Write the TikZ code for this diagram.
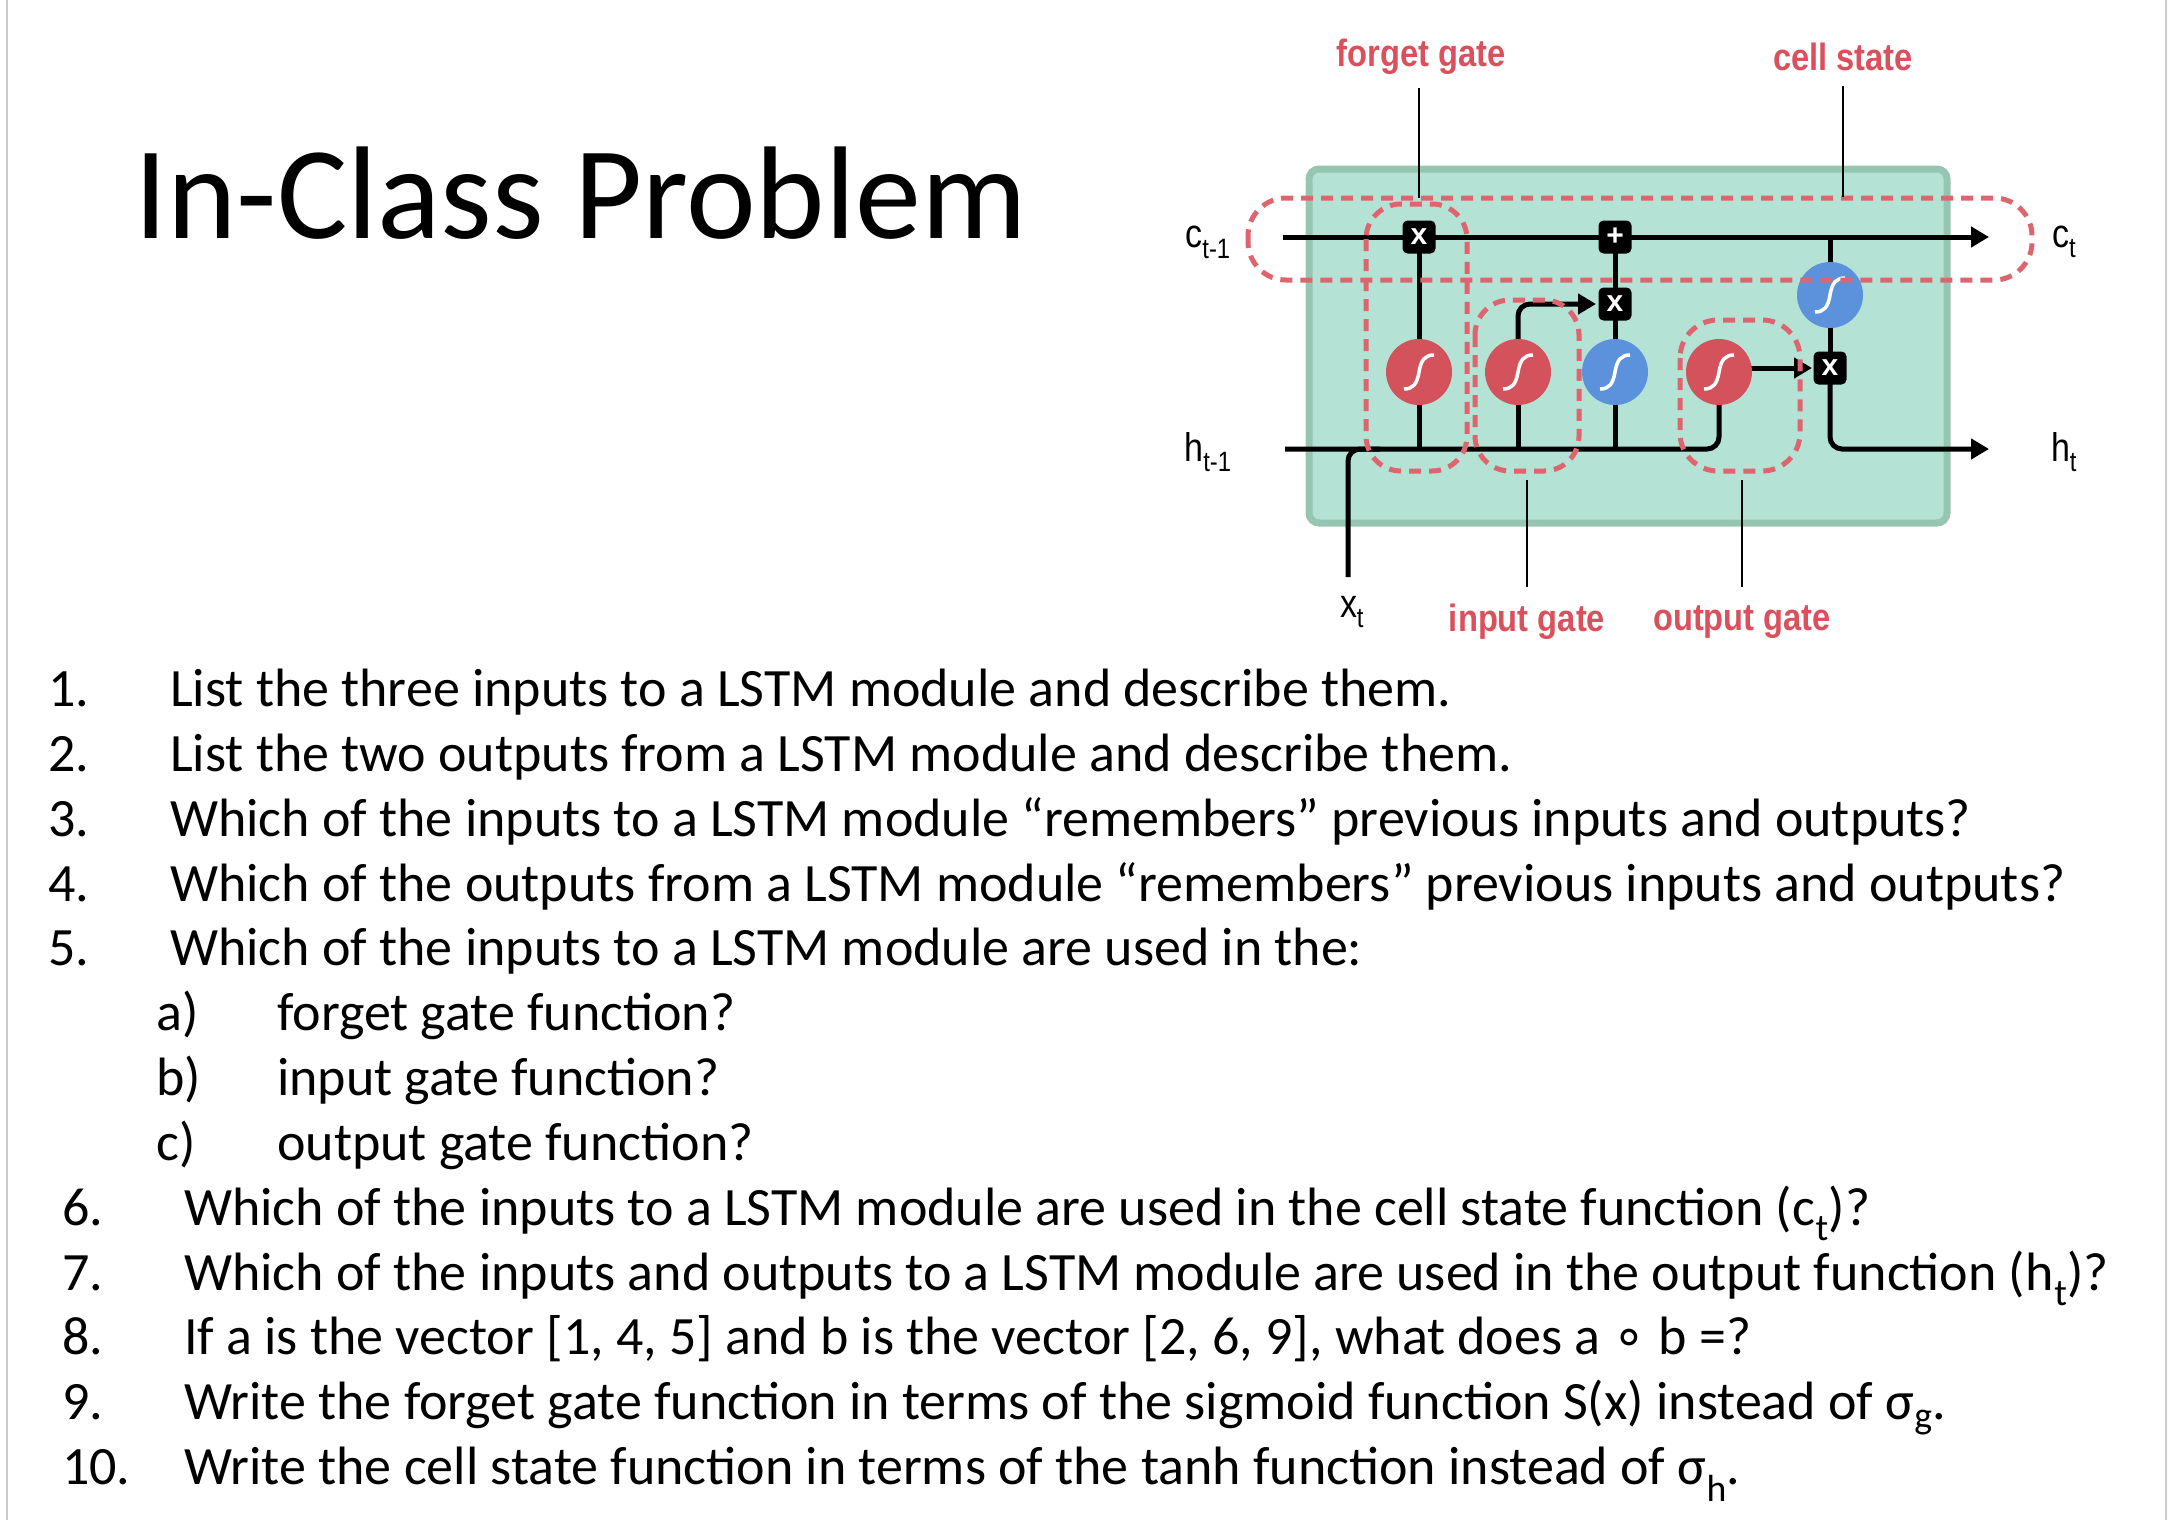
\documentclass[tikz,border=0pt]{standalone}
\usepackage{fontspec}
\setmainfont{Carlito}
\newfontfamily\lab{Liberation Sans}
\newfontfamily\dv{DejaVu Sans}
\usetikzlibrary{calc,arrows.meta}
\definecolor{boxfill}{RGB}{180,226,213}
\definecolor{boxline}{RGB}{150,198,178}
\definecolor{sred}{RGB}{212,82,92}
\definecolor{sblue}{RGB}{92,146,220}
\definecolor{dred}{RGB}{222,100,110}
\definecolor{lred}{RGB}{218,80,92}
\tikzset{
 wire/.style={line width=5pt,black},
 arr/.style={wire,-{Triangle[length=18pt,width=20pt]}},
 dbox/.style={line width=5pt,dred,dash pattern=on 12pt off 8pt},
 lead/.style={line width=1.6pt,black},
 op/.style={rectangle,rounded corners=5pt,fill=black,minimum size=33pt,inner sep=0pt,text=white,font=\lab\bfseries\fontsize{30}{30}\selectfont},
 gl/.style={font=\lab\bfseries\fontsize{38}{38}\selectfont,text=lred,xscale=0.86},
 vl/.style={font=\lab\fontsize{40}{40}\selectfont,xscale=0.85},
 qt/.style={anchor=base west,inner sep=0pt,font=\fontsize{54}{54}\selectfont},
}
\newcommand\sigm[3]{%
 \node[circle,fill=#3,minimum size=66pt,inner sep=0pt] (#1) at #2 {};
 \draw[white,line width=3.5pt] ($(#1)+(-15,17)$) .. controls +(9,0) and +(-2,12) .. (#1.center) .. controls +(2,-12) and +(-9,0) .. ($(#1)+(15,-17)$);}
\begin{document}
\begin{tikzpicture}[x=1pt,y=-1pt]
\useasboundingbox (0,0) rectangle (2170,1520);
\draw[gray!40,line width=1.5pt] (7,0) -- (7,1520);
\draw[gray!40,line width=1.5pt] (2166,0) -- (2166,1520);
\node[anchor=base west,inner sep=0pt,font=\fontsize{132}{132}\selectfont] (title) at (134,238) {In-Class Problem};
% box
\draw[fill=boxfill,draw=boxline,line width=7pt,rounded corners=10pt] (1309,169) rectangle (1947,523);
% coordinates
\coordinate (cl) at (1283,237); \coordinate (cend) at (1989,237);
\coordinate (hl) at (1285,449); \coordinate (hend) at (1989,449);
\coordinate (xb) at (1348,577);
% wires
\draw[arr] (cl) -- (cend);
\draw[wire,rounded corners=12pt] (hl) -- (1719,449) -- (1719,372);
\draw[wire,rounded corners=12pt] (xb) -- (1348,449) -- (1380,449);
\draw[wire] (1419,449) -- (1419,237);
\draw[wire] (1518,449) -- (1518,372);
\draw[wire] (1615,449) -- (1615,237);
\draw[wire] (1830,237) -- (1830,368);
\draw[arr,rounded corners=12pt] (1518,372) -- (1518,304) -- (1596,304);
\draw[arr,rounded corners=12pt] (1830,368) -- (1830,449) -- (hend);
\draw[arr] (1719,368) -- (1812,368);
% nodes
\node[op] (fx) at (1419,237) {x};
\node[op] (plus) at (1615,237) {+};
\node[op] (ix) at (1615,304) {x};
\node[op] (ox) at (1830,368) {x};
\sigm{sf}{(1419,372)}{sred}
\sigm{si}{(1518,372)}{sred}
\sigm{st}{(1615,372)}{sblue}
\sigm{so}{(1719,372)}{sred}
\sigm{tc}{(1830,295)}{sblue}
% dashed groups
\draw[dbox,rounded corners=38pt] (1248,198) rectangle (2032,280);
\draw[dbox,rounded corners=35pt] (1366,204) rectangle (1467,471);
\draw[dbox,rounded corners=35pt] (1475,300) rectangle (1579,471);
\draw[dbox,rounded corners=38pt] (1680,320) rectangle (1800,471);
% labels
\node[gl] (lf) at (1421,57) {forget gate};
\node[gl] (lc) at (1843,57) {cell state};
\node[gl] (li) at (1527,622) {input gate};
\node[gl] (lo) at (1742,622) {output gate};
\draw[lead] (1419,88) -- (1419,198);
\draw[lead] (1843,86) -- (1843,197);
\draw[lead] (1527,480) -- (1527,587);
\draw[lead] (1742,480) -- (1742,587);
\node[vl] (vc) at (1208,242) {c\textsubscript{t-1}};
\node[vl] (vh) at (1208,452) {h\textsubscript{t-1}};
\node[vl] (vct) at (2064,242) {c\textsubscript{t}};
\node[vl] (vht) at (2064,452) {h\textsubscript{t}};
\node[vl] (vx) at (1352,612) {x\textsubscript{t}};
% questions
\node[qt] (n1) at (48,706) {1.}; \node[qt] (q1) at (170,706) {List the three inputs to a LSTM module and describe them.};
\node[qt] (n2) at (48,771) {2.}; \node[qt] (q2) at (170,771) {List the two outputs from a LSTM module and describe them.};
\node[qt] (n3) at (48,836) {3.}; \node[qt] (q3) at (170,836) {Which of the inputs to a LSTM module “remembers” previous inputs and outputs?};
\node[qt] (n4) at (48,901) {4.}; \node[qt] (q4) at (170,901) {Which of the outputs from a LSTM module “remembers” previous inputs and outputs?};
\node[qt] (n5) at (48,965) {5.}; \node[qt] (q5) at (170,965) {Which of the inputs to a LSTM module are used in the:};
\node[qt] (na) at (156,1030) {a)}; \node[qt] (qa) at (277,1030) {forget gate function?};
\node[qt] (nb) at (156,1095) {b)}; \node[qt] (qb) at (277,1095) {input gate function?};
\node[qt] (nc) at (156,1160) {c)}; \node[qt] (qc) at (277,1160) {output gate function?};
\node[qt] (n6) at (62,1225) {6.}; \node[qt] (q6) at (184,1225) {Which of the inputs to a LSTM module are used in the cell state function (c\textsubscript{t})?};
\node[qt] (n7) at (62,1290) {7.}; \node[qt] (q7) at (184,1290) {Which of the inputs and outputs to a LSTM module are used in the output function (h\textsubscript{t})?};
\node[qt] (n8) at (62,1354) {8.}; \node[qt] (q8) at (184,1354) {If a is the vector [1, 4, 5] and b is the vector [2, 6, 9], what does a {\dv∘} b =?};
\node[qt] (n9) at (62,1419) {9.}; \node[qt] (q9) at (184,1419) {Write the forget gate function in terms of the sigmoid function S(x) instead of σ\textsubscript{g}.};
\node[qt] (n10) at (62,1484) {10.}; \node[qt] (q10) at (184,1484) {Write the cell state function in terms of the tanh function instead of σ\textsubscript{h}.};
\end{tikzpicture}
\end{document}
